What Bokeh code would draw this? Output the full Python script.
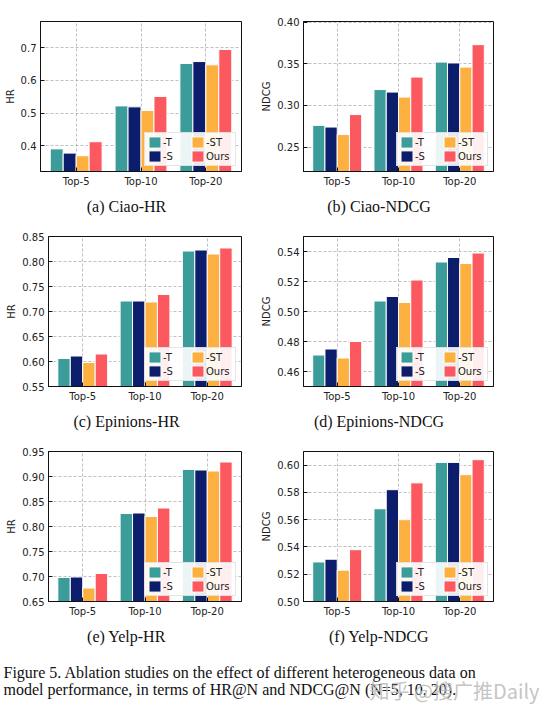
from bokeh.plotting import figure
from bokeh.layouts import column, row
from bokeh.models import (ColumnDataSource, Range1d, FixedTicker, PrintfTickFormatter,
                          Legend, LegendItem)
from bokeh.embed import file_html
from bokeh.resources import INLINE
from bokeh.core.properties import value

categories = ["Top-5", "Top-10", "Top-20"]
variants = ["-T", "-S", "-ST", "Ours"]
colors = ["#3C9C9A", "#0C1D6B", "#FBB040", "#FB5860"]

# (a) Ciao-HR
ciao_hr_t = [0.390, 0.522, 0.652]
ciao_hr_s = [0.377, 0.519, 0.658]
ciao_hr_st = [0.369, 0.508, 0.648]
ciao_hr_ours = [0.412, 0.551, 0.695]
# (b) Ciao-NDCG
ciao_ndcg_t = [0.276, 0.319, 0.352]
ciao_ndcg_s = [0.274, 0.316, 0.351]
ciao_ndcg_st = [0.265, 0.310, 0.346]
ciao_ndcg_ours = [0.289, 0.334, 0.373]
# (c) Epinions-HR
epinions_hr_t = [0.606, 0.721, 0.821]
epinions_hr_s = [0.611, 0.721, 0.823]
epinions_hr_st = [0.598, 0.719, 0.815]
epinions_hr_ours = [0.615, 0.734, 0.827]
# (d) Epinions-NDCG
epinions_ndcg_t = [0.471, 0.507, 0.533]
epinions_ndcg_s = [0.475, 0.510, 0.536]
epinions_ndcg_st = [0.469, 0.506, 0.532]
epinions_ndcg_ours = [0.480, 0.521, 0.539]
# (e) Yelp-HR
yelp_hr_t = [0.698, 0.826, 0.914]
yelp_hr_s = [0.699, 0.827, 0.913]
yelp_hr_st = [0.677, 0.820, 0.911]
yelp_hr_ours = [0.706, 0.837, 0.929]
# (f) Yelp-NDCG
yelp_ndcg_t = [0.529, 0.568, 0.602]
yelp_ndcg_s = [0.531, 0.582, 0.602]
yelp_ndcg_st = [0.523, 0.560, 0.593]
yelp_ndcg_ours = [0.538, 0.587, 0.604]

# y tick values
ticks_ciao_hr = [0.4, 0.5, 0.6, 0.7]
ticks_ciao_ndcg = [0.25, 0.30, 0.35, 0.40]
ticks_epinions_hr = [0.55, 0.60, 0.65, 0.70, 0.75, 0.80, 0.85]
ticks_epinions_ndcg = [0.46, 0.48, 0.50, 0.52, 0.54]
ticks_yelp_hr = [0.65, 0.70, 0.75, 0.80, 0.85, 0.90, 0.95]
ticks_yelp_ndcg = [0.50, 0.52, 0.54, 0.56, 0.58, 0.60]

subcaptions = ["(a) Ciao-HR", "(b) Ciao-NDCG", "(c) Epinions-HR",
               "(d) Epinions-NDCG", "(e) Yelp-HR", "(f) Yelp-NDCG"]
caption_line1 = "Figure 5.  Ablation studies on the effect of different heterogeneous data on"
caption_line2 = "model performance, in terms of HR@N and NDCG@N (N=5, 10, 20)."
watermark = "知乎 @搜广推Daily"

SANS = "DejaVu Sans"
SERIF = "Liberation Serif"
offsets = [-0.3, -0.1, 0.1, 0.3]
PAGE_W = 552
LEFT_W = 258
RIGHT_W = PAGE_W - LEFT_W


def make_panel(series, ylabel, yr, yticks, fmt, width, height, bl, br, bt):
    p = figure(width=width, height=height, x_range=Range1d(-0.55, 2.55),
               y_range=Range1d(yr[0], yr[1]), output_backend="svg",
               toolbar_location=None, min_border_left=bl, min_border_right=br,
               min_border_top=bt, min_border_bottom=22)
    p.outline_line_color = "#111111"
    p.outline_line_alpha = 1
    p.outline_line_width = 1
    items = []
    for i, (name, vals, col) in enumerate(zip(variants, series, colors)):
        xs = [k + offsets[i] for k in range(len(categories))]
        src = ColumnDataSource(dict(x=xs, top=vals))
        r = p.vbar(x="x", top="top", bottom=0, width=0.2, source=src,
                   fill_color=col, line_color="white", line_width=1)
        items.append(LegendItem(label=name, renderers=[r]))

    p.xaxis.ticker = FixedTicker(ticks=list(range(len(categories))))
    p.xaxis.major_label_overrides = {i: c for i, c in enumerate(categories)}
    p.yaxis.ticker = FixedTicker(ticks=yticks)
    p.yaxis.formatter = PrintfTickFormatter(format=fmt)
    for ax in (p.xaxis, p.yaxis):
        ax.major_tick_in = 4
        ax.major_tick_out = 0
        ax.minor_tick_in = 0
        ax.minor_tick_out = 0
        ax.major_label_text_font = SANS
        ax.major_label_text_font_size = "10px"
        ax.major_label_text_color = "#222222"
        ax.major_label_standoff = 4
        ax.axis_line_color = "#111111"
        ax.major_tick_line_color = "#111111"
    p.yaxis.axis_label = ylabel
    p.yaxis.axis_label_text_font = SANS
    p.yaxis.axis_label_text_font_size = "10px"
    p.yaxis.axis_label_text_font_style = "normal"
    p.yaxis.axis_label_text_color = "#222222"
    p.yaxis.axis_label_standoff = 2

    p.grid.grid_line_color = "#b0b0b0"
    p.grid.grid_line_dash = "3 2"
    p.grid.grid_line_width = 0.8

    legend = Legend(items=items, location="bottom_right", ncols=2,
                    orientation="vertical",
                    label_text_font=SANS, label_text_font_size="10px",
                    label_text_color="#222222", label_width=27,
                    glyph_width=15, glyph_height=14, label_standoff=1,
                    label_height=14, spacing=0, padding=2, margin=5,
                    border_line_color="#cccccc", border_line_width=1,
                    background_fill_color="white", background_fill_alpha=0.9)
    p.add_layout(legend, "center")
    return p


def make_strip(texts, centers, height, cy):
    s = figure(width=PAGE_W, height=height, x_range=Range1d(0, PAGE_W),
               y_range=Range1d(0, height), output_backend="svg", toolbar_location=None,
               x_axis_type=None, y_axis_type=None, min_border=0)
    s.outline_line_color = None
    s.grid.visible = False
    s.text(x=centers, y=[height - cy] * len(texts), text=texts,
           text_font=value(SERIF), text_font_size=value("16px"), text_color="#111111",
           text_baseline="middle", text_align="center")
    return s


# row 1 (frame top 21), rows 2-3 (frame top 13)
pa = make_panel([ciao_hr_t, ciao_hr_s, ciao_hr_st, ciao_hr_ours], "HR", (0.3206, 0.781),
                ticks_ciao_hr, "%.1f", LEFT_W, 193, 40, 17, 21)
pb = make_panel([ciao_ndcg_t, ciao_ndcg_s, ciao_ndcg_st, ciao_ndcg_ours], "NDCG",
                (0.2206, 0.4008), ticks_ciao_ndcg, "%.2f", RIGHT_W, 193, 41, 59, 21)
pc = make_panel([epinions_hr_t, epinions_hr_s, epinions_hr_st, epinions_hr_ours], "HR",
                (0.55, 0.85), ticks_epinions_hr, "%.2f", LEFT_W, 185, 48, 17, 13)
pd_ = make_panel([epinions_ndcg_t, epinions_ndcg_s, epinions_ndcg_st, epinions_ndcg_ours],
                 "NDCG", (0.45, 0.55), ticks_epinions_ndcg, "%.2f", RIGHT_W, 185, 41, 59, 13)
pe = make_panel([yelp_hr_t, yelp_hr_s, yelp_hr_st, yelp_hr_ours], "HR", (0.65, 0.95),
                ticks_yelp_hr, "%.2f", LEFT_W, 185, 48, 17, 13)
pf = make_panel([yelp_ndcg_t, yelp_ndcg_s, yelp_ndcg_st, yelp_ndcg_ours], "NDCG",
                (0.50, 0.61), ticks_yelp_ndcg, "%.2f", RIGHT_W, 185, 41, 59, 13)

sub_centers = [126, 378.5]
s1 = make_strip(subcaptions[0:2], sub_centers, 30, 13)
s2 = make_strip(subcaptions[2:4], sub_centers, 30, 13)
s3 = make_strip(subcaptions[4:6], sub_centers, 30, 13)

cap_h = 60
pcap = figure(width=PAGE_W, height=cap_h, x_range=Range1d(0, PAGE_W), y_range=Range1d(0, cap_h),
              output_backend="svg", toolbar_location=None, x_axis_type=None, y_axis_type=None,
              min_border=0)
pcap.outline_line_color = None
pcap.grid.visible = False
pcap.text(x=[3, 3], y=[cap_h - 18.7, cap_h - 36.3], text=[caption_line1, caption_line2],
          text_font=value(SERIF), text_font_size=value("16px"), text_color="#111111",
          text_baseline="middle", text_align="left")
pcap.text(x=[369], y=[cap_h - 36.5], text=[watermark], text_font=value("Noto Sans CJK SC"),
          text_font_size=value("20px"), text_color="#bdbdbd", text_alpha=0.9,
          text_baseline="middle", text_align="left")

layout = column(row(pa, pb), s1, row(pc, pd_), s2, row(pe, pf), s3, pcap)
open("out.html", "w").write(file_html(layout, INLINE))
